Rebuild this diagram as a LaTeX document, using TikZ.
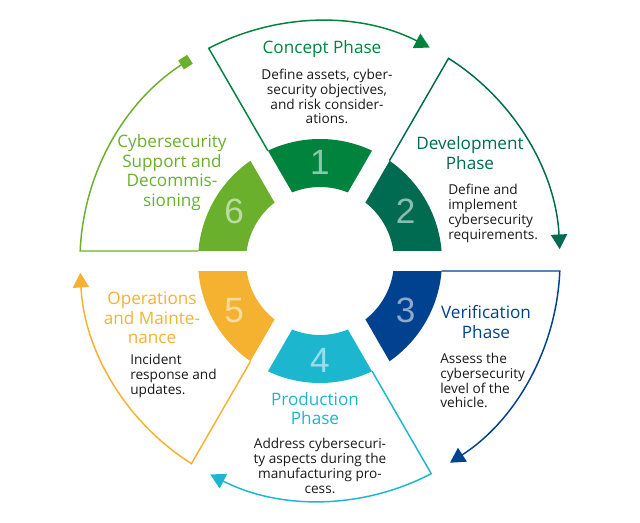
\documentclass[tikz,border=0pt]{standalone}
\usepackage{fontspec}
\setmainfont{Open Sans}
\newfontfamily\digitfont{Liberation Sans}
\usetikzlibrary{arrows.meta}
\definecolor{phaseA}{RGB}{0,132,61}
\definecolor{phaseB}{RGB}{0,107,80}
\definecolor{phaseC}{RGB}{0,66,143}
\definecolor{phaseD}{RGB}{28,183,206}
\definecolor{phaseE}{RGB}{245,178,48}
\definecolor{phaseF}{RGB}{106,176,45}
\tikzset{outline/.style={line width=1.05pt, -{Triangle[length=10.5pt, width=11.5pt]}}}
\tikzset{gap/.style={white, line width=14.2pt}}
\tikzset{num/.style={font=\digitfont\fontsize{25}{25}\selectfont, text=white, text opacity=0.55, inner sep=0}}
\tikzset{phasetitle/.style={font=\fontsize{12.2}{13.8}\selectfont, align=center, inner sep=0}}
\tikzset{phasetext/.style={font=\fontsize{9.7}{10.6}\selectfont, text=black!90, inner sep=0}}

\begin{document}
\begin{tikzpicture}[x=0.025cm, y=0.025cm]
\useasboundingbox (-320,-262) rectangle (320,261);
% ring of six phases
\fill[phaseA] (60:74) arc[start angle=60, end angle=120, radius=74] -- (120:122) arc[start angle=120, end angle=60, radius=122] -- cycle;
\fill[phaseB] (0:74) arc[start angle=0, end angle=60, radius=74] -- (60:122) arc[start angle=60, end angle=0, radius=122] -- cycle;
\fill[phaseC] (-60:74) arc[start angle=-60, end angle=0, radius=74] -- (0:122) arc[start angle=0, end angle=-60, radius=122] -- cycle;
\fill[phaseD] (-120:74) arc[start angle=-120, end angle=-60, radius=74] -- (-60:122) arc[start angle=-60, end angle=-120, radius=122] -- cycle;
\fill[phaseE] (-180:74) arc[start angle=-180, end angle=-120, radius=74] -- (-120:122) arc[start angle=-120, end angle=-180, radius=122] -- cycle;
\fill[phaseF] (120:74) arc[start angle=120, end angle=180, radius=74] -- (180:122) arc[start angle=180, end angle=120, radius=122] -- cycle;
\draw[gap] (180:124) -- (0:124) (60:124) -- (240:124) (120:124) -- (300:124);
\node[num] (num1) at (90:99) {1};
\node[num] (num2) at (30:99) {2};
\node[num] (num3) at (-30:99) {3};
\node[num] (num4) at (-90:99) {4};
\node[num] (num5) at (-150:99) {5};
\node[num] (num6) at (150:99) {6};
% outlines, clockwise
\begin{scope}[rotate=120]
\draw[outline, phaseA] (121.6,-10) -- (239.8,-10) arc[start angle=-2.39, end angle=-57.2, radius=240];
\end{scope}
\begin{scope}[rotate=60]
\draw[outline, phaseB] (121.6,-10) -- (239.8,-10) arc[start angle=-2.39, end angle=-57.2, radius=240];
\end{scope}
\begin{scope}[rotate=0]
\draw[outline, phaseC] (121.6,-10) -- (239.8,-10) arc[start angle=-2.39, end angle=-57.2, radius=240];
\end{scope}
\begin{scope}[rotate=-60]
\draw[outline, phaseD] (121.6,-10) -- (239.8,-10) arc[start angle=-2.39, end angle=-57.2, radius=240];
\end{scope}
\begin{scope}[rotate=-120]
\draw[outline, phaseE] (121.6,-10) -- (239.8,-10) arc[start angle=-2.39, end angle=-57.2, radius=240];
\end{scope}
\begin{scope}[rotate=180]
\draw[outline, phaseF, -{Square[length=7.5pt, width=7.5pt]}] (121.6,-10) -- (239.8,-10) arc[start angle=-2.39, end angle=-57.2, radius=240];
\end{scope}
% labels
\node[phasetitle, text=phaseA] (concept) at (2,212) {Concept Phase};
\node[phasetext, align=center] (conceptText) at (7,164.5) {Define assets, cyber-\\security objectives,\\and risk consider-\\ations.};
\node[phasetitle, text=phaseB] (develop) at (150,108) {Development\\Phase};
\node[phasetext, align=left, anchor=west] (developText) at (128,47.5) {Define and\\implement\\cybersecurity\\requirements.};
\node[phasetitle, text=phaseC] (verify) at (166,-61) {Verification\\Phase};
\node[phasetext, align=left, anchor=west] (verifyText) at (120,-119.5) {Assess the\\cybersecurity\\level of the\\vehicle.};
\node[phasetitle, text=phaseD] (produce) at (-5,-147.5) {Production\\Phase};
\node[phasetext, align=center] (produceText) at (0,-205) {Address cybersecuri-\\ty aspects during the\\manufacturing pro-\\cess.};
\node[phasetitle, text=phaseE] (operate) at (-168,-57) {Operations\\and Mainte-\\nance};
\node[phasetext, align=left, anchor=west] (operateText) at (-190,-115) {Incident\\response and\\updates.};
\node[phasetitle, text=phaseF] (support) at (-148,88.5) {Cybersecurity\\Support and\\Decommis-\\sioning};
\end{tikzpicture}
\end{document}
